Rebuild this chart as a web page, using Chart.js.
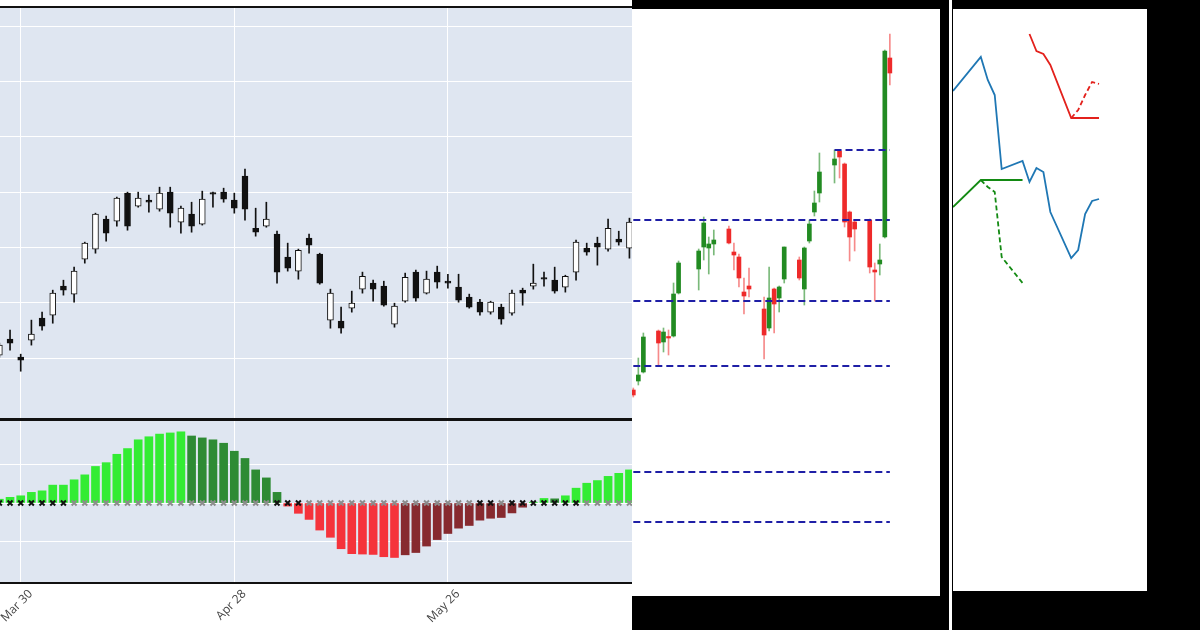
<!DOCTYPE html>
<html lang="en">
<head>
<meta charset="UTF-8">
<title>Squeeze momentum collage</title>
<script src="https://cdn.jsdelivr.net/npm/chart.js@4.4.1/dist/chart.umd.min.js"></script>
<style>
  body {
    margin: 0;
    width: 1200px;
    height: 630px;
    position: relative;
    overflow: hidden;
    background: #fff;
    font-family: 'Open Sans', sans-serif;
  }
  canvas { position: absolute; display: block; }
  .panel { position: absolute; top: 0; height: 630px; background: #000; }
  #mid { left: 632px; width: 317px; }
  #right { left: 952px; width: 248px; }
</style>
</head>
<body>

<canvas id="price" width="632" height="419" style="left:0;top:0"></canvas>
<canvas id="squeeze" width="632" height="211" style="left:0;top:419px"></canvas>
<div class="panel" id="mid">
  <canvas id="levels" width="308" height="587" style="left:0;top:9px;background:#fff"></canvas>
</div>
<div class="panel" id="right">
  <canvas id="paths" width="194" height="582" style="left:1px;top:9px;background:#fff"></canvas>
</div>

<script>
  // ---------- left: daily candles + squeeze momentum ----------
  const tickIdx  = [2, 22, 42];
  const tickText = ['Mar 30', 'Apr 28', 'May 26'];

  const cOpen  = [50.27,51.72,50.09,51.63,53.62,53.89,56.51,55.79,58.95,59.86,
                  62.57,62.39,64.92,63.74,64.29,63.47,65.01,62.30,63.02,62.12,
                  64.92,65.01,64.29,66.46,61.75,61.93,61.21,59.13,57.87,60.85,
                  59.40,53.44,53.35,54.52,56.24,56.78,56.51,53.07,55.15,57.78,
                  55.88,57.78,56.96,56.42,55.52,55.06,54.16,54.61,54.07,56.15,
                  56.51,57.23,57.05,56.42,57.78,59.95,60.40,59.86,60.76,59.95];
  const cHigh  = [51.36,52.53,50.36,53.44,54.16,56.15,57.05,58.23,60.49,63.11,
                  62.84,64.56,65.01,65.01,64.74,65.46,65.46,63.74,64.10,65.10,
                  65.01,65.37,64.92,67.09,63.56,64.10,61.48,60.40,59.86,61.21,
                  59.49,56.24,54.61,56.06,57.78,57.05,56.96,54.97,57.69,57.96,
                  57.87,58.32,57.59,57.59,55.79,55.33,55.15,54.88,56.15,56.33,
                  58.50,57.78,58.23,57.50,60.67,60.40,60.94,62.57,61.48,62.66];
  const cLow   = [50.09,50.72,48.82,51.18,52.53,53.16,55.70,55.06,58.59,59.49,
                  60.58,61.93,61.57,63.65,63.20,63.29,61.84,61.30,61.39,62.03,
                  63.65,64.10,63.11,62.48,61.03,61.84,56.78,57.87,57.14,59.49,
                  56.69,52.71,52.26,54.16,55.88,55.15,54.70,52.80,55.06,55.15,
                  55.80,56.33,56.33,55.06,54.52,53.89,53.98,53.07,53.89,54.79,
                  56.24,56.51,55.88,55.97,57.05,59.31,58.41,59.67,60.22,59.04];
  const cClose = [51.18,51.36,49.82,52.17,52.89,55.88,56.15,57.87,60.40,63.02,
                  61.30,64.47,61.93,64.47,64.10,64.92,63.11,63.56,61.93,64.38,
                  64.83,64.38,63.56,63.47,61.39,62.57,57.78,58.14,59.76,60.22,
                  56.78,55.88,52.71,54.97,57.41,56.24,54.79,54.70,57.32,55.42,
                  57.14,56.87,56.78,55.24,54.61,54.16,55.06,53.53,55.88,55.88,
                  56.78,57.14,56.06,57.41,60.49,59.58,60.04,61.75,60.49,62.30];

  const sqMom = [0.10,0.15,0.19,0.28,0.32,0.47,0.47,0.61,0.74,0.96,
                 1.06,1.28,1.43,1.66,1.74,1.81,1.84,1.87,1.76,1.71,
                 1.66,1.57,1.36,1.17,0.87,0.66,0.28,-0.08,-0.27,-0.43,
                 -0.71,-0.90,-1.20,-1.33,-1.34,-1.35,-1.41,-1.43,-1.36,-1.30,
                 -1.13,-0.96,-0.80,-0.66,-0.59,-0.45,-0.40,-0.38,-0.26,-0.11,
                 0.02,0.12,0.11,0.19,0.39,0.52,0.59,0.70,0.78,0.87];
  // 1 = squeeze on (black cross), 0 = off (grey cross)
  const sqOn = [1,1,1,1,1,1,1,0,0,0, 0,0,0,0,0,0,0,0,0,0,
                0,0,0,0,0,0,1,1,1,0, 0,0,0,0,0,0,0,0,0,0,
                0,0,0,0,0,1,1,0,1,1, 1,1,1,1,1,0,0,0,0,0];

  // ---------- middle: candles with dashed levels ----------
  const mDay   = [0,1,2,5,6,7,8,9,13,14,15,16,19,20,21,22,23,26,27,28,29,30,
                  33,34,35,36,37,40,41,42,43,44,47,48,49,50,51];
  const mOpen  = [110.6,111.5,112.4,116.5,115.4,115.9,116.0,120.3,122.7,124.9,124.8,125.2,
                  126.7,124.4,123.9,120.4,121.0,118.7,116.8,120.7,119.8,121.7,
                  123.6,120.7,125.5,128.4,130.3,133.1,134.5,133.2,128.4,127.4,
                  127.6,122.6,123.2,125.9,143.8];
  const mHigh  = [110.8,113.8,116.3,116.6,116.8,116.6,121.3,123.5,124.7,127.9,125.9,126.6,
                  127.0,125.3,124.2,121.8,122.8,119.9,122.9,120.8,121.0,124.9,
                  123.9,124.9,127.6,130.5,134.3,134.6,134.6,133.3,128.5,127.6,
                  127.7,123.3,125.2,144.6,146.2];
  const mLow   = [109.9,111.1,112.3,113.0,114.4,114.1,115.9,120.2,120.6,123.6,122.2,124.1,
                  125.2,122.6,120.9,118.2,119.9,113.7,116.5,116.3,118.4,121.3,
                  121.6,119.1,125.3,128.0,129.4,131.3,131.8,126.9,123.5,124.5,
                  122.3,119.5,122.1,125.8,141.1];
  const mClose = [110.1,112.1,115.9,115.3,116.4,115.8,120.2,123.3,124.5,127.3,125.2,125.6,
                  125.3,124.1,121.8,120.0,120.7,116.1,119.8,119.2,120.9,124.9,
                  121.8,124.8,127.2,129.3,132.4,133.7,133.9,127.4,125.9,126.7,
                  122.9,122.4,123.6,144.5,142.3];
  const levelPrice = [134.6, 127.6, 119.5, 113.0, 102.4, 97.4];
  const levelFrom  = [40, 0, 0, 0, 0, 0];
  const levelTo    = 51;

  // ---------- right: projected paths ----------
  const pathBlue   = [150.0,null,null,null,153.4,151.1,149.6,142.2,null,null,143.0,
                      140.9,142.3,141.9,137.9,null,null,133.3,134.1,137.7,139.0,139.2];
  const pathRed    = [null,null,null,null,null,null,null,null,null,null,null,
                      155.7,154.0,153.7,152.6,null,null,147.3,null,null,null,147.3];
  const pathRedDash   = [null,null,null,null,null,null,null,null,null,null,null,
                         null,null,null,null,null,null,147.3,148.1,149.6,150.9,150.7];
  const pathGreen     = [138.4,null,null,null,141.1,null,null,null,null,null,141.1];
  const pathGreenDash = [null,null,null,null,141.1,140.4,139.9,133.4,null,null,130.8];

  // plot background like plotly
  const plotBg = {
    id: 'plotBg',
    beforeDraw(chart, args, opts) {
      const { ctx, chartArea: a } = chart;
      ctx.save();
      ctx.fillStyle = opts.color;
      ctx.fillRect(a.left, a.top, a.right - a.left, a.bottom - a.top);
      ctx.restore();
    }
  };

  Chart.defaults.font.family = "'Open Sans', sans-serif";
  Chart.defaults.animation = false;
  Chart.defaults.plugins.legend.display = false;
  Chart.defaults.plugins.tooltip.enabled = false;

  const up = (o, c) => c >= o;

  function leftX(labels) {
    return {
      type: 'linear', min: 0.06, max: 59.24, position: 'bottom', offset: false,
      afterBuildTicks: s => { s.ticks = tickIdx.map(v => ({ value: v })); },
      grid: { color: '#fff', lineWidth: 1, drawTicks: false, offset: false },
      border: { color: '#111', width: 2 },
      ticks: {
        display: labels, minRotation: 45, maxRotation: 45, labelOffset: 10, padding: 4,
        color: '#444', font: { size: 12 },
        callback: v => tickText[tickIdx.indexOf(v)]
      },
      // keep the plot full width: no room reserved for the rotated labels
      afterFit: s => {
        s.height = labels ? 47 : 0;
        s.paddingLeft = 0;
        s.paddingRight = 0;
      }
    };
  }
  const topEdge = {
    type: 'linear', position: 'top', min: 0, max: 1,
    grid: { display: false }, ticks: { display: false },
    border: { color: '#111', width: 2 },
    afterFit: s => { s.height = 0; }
  };
  function leftY(min, max, step) {
    return {
      type: 'linear', min: min, max: max,
      afterBuildTicks: s => {
        s.ticks = s.ticks.filter(t => Math.abs(t.value / step - Math.round(t.value / step)) < 1e-6);
      },
      ticks: { display: false, stepSize: step },
      grid: { color: '#fff', lineWidth: 1, drawTicks: false },
      border: { display: false },
      afterFit: s => { s.width = 0; }
    };
  }

  new Chart('price', {
    type: 'bar',
    data: {
      datasets: [{
        data: cOpen.map((o, i) => ({ x: i, y: [o, cClose[i]] })),
        backgroundColor: cOpen.map((o, i) => up(o, cClose[i]) ? '#fff' : '#111'),
        borderColor: '#111', borderWidth: 1, borderSkipped: false,
        barThickness: 6, minBarLength: 1.5, grouped: false, order: 1
      }, {
        data: cLow.map((l, i) => ({ x: i, y: [l, cHigh[i]] })),
        backgroundColor: '#111', barThickness: 1, grouped: false, order: 2
      }]
    },
    options: {
      responsive: false,
      layout: { padding: { top: 7 }, autoPadding: false },
      scales: { x: leftX(false), x2: topEdge, y: leftY(44.5, 81.75, 5) },
      plugins: { plotBg: { color: '#dfe6f1' } }
    },
    plugins: [plotBg]
  });

  const momColor = sqMom.map((v, i) => {
    const prev = i > 0 ? sqMom[i - 1] : v;
    if (v >= 0) return v >= prev ? '#33ec33' : '#2e8b34';
    return v <= prev ? '#f5333b' : '#872a2f';
  });

  new Chart('squeeze', {
    type: 'bar',
    data: {
      datasets: [{
        type: 'scatter',
        data: sqOn.map((s, i) => ({ x: i, y: 0 })),
        pointStyle: 'crossRot', pointRadius: 3.5, pointBorderWidth: 2,
        pointBorderColor: sqOn.map(s => s ? '#111' : '#8c8c8c'),
        order: 0
      }, {
        data: sqMom.map((v, i) => ({ x: i, y: v })),
        backgroundColor: momColor, barThickness: 8, grouped: false, order: 1
      }]
    },
    options: {
      responsive: false,
      layout: { padding: { top: 1 }, autoPadding: false },
      scales: { x: leftX(true), x2: topEdge, y: leftY(-2.1, 2.18, 1) },
      plugins: { plotBg: { color: '#dfe6f1' } }
    },
    plugins: [plotBg]
  });

  // ---------- middle chart ----------
  const mUp = mOpen.map((o, i) => up(o, mClose[i]));
  const levelSets = levelPrice.map((p, k) => ({
    type: 'line',
    data: [{ x: levelFrom[k], y: p }, { x: levelTo, y: p }],
    borderColor: '#1f1fa6', borderWidth: 2, borderDash: [7, 4],
    pointRadius: 0, order: 0
  }));

  new Chart('levels', {
    type: 'bar',
    data: {
      datasets: [{
        data: mDay.map((d, i) => ({ x: d, y: [mOpen[i], mClose[i]] })),
        backgroundColor: mUp.map(u => u ? '#228b22' : '#ee2a2a'),
        barThickness: 4, minBarLength: 1.5, grouped: false, order: 1
      }, {
        data: mDay.map((d, i) => ({ x: d, y: [mLow[i], mHigh[i]] })),
        backgroundColor: mUp.map(u => u ? 'rgba(34,139,34,0.6)' : 'rgba(238,42,42,0.55)'),
        barThickness: 1, grouped: false, order: 2
      }].concat(levelSets)
    },
    options: {
      responsive: false,
      layout: { autoPadding: false },
      scales: {
        x: { type: 'linear', min: -0.26, max: 60.97, offset: false, display: false },
        y: { type: 'linear', min: 90, max: 148.7, display: false }
      }
    }
  });

  // ---------- right chart ----------
  const pts = arr => arr.map((v, i) => ({ x: i, y: v })).filter(p => p.y !== null);
  const path = (arr, color, dash) => ({
    data: pts(arr), borderColor: color, borderWidth: 1.8,
    borderDash: dash || [], pointRadius: 0, tension: 0
  });

  new Chart('paths', {
    type: 'line',
    data: {
      datasets: [
        path(pathBlue, '#1f77b4'),
        path(pathRed, '#e3211c'),
        path(pathRedDash, '#e3211c', [5, 3]),
        path(pathGreen, '#138a13'),
        path(pathGreenDash, '#138a13', [5, 3])
      ]
    },
    options: {
      responsive: false,
      layout: { autoPadding: false },
      scales: {
        x: { type: 'linear', min: 0, max: 27.9, display: false },
        y: { type: 'linear', min: 100, max: 158.2, display: false }
      }
    }
  });
</script>

</body>
</html>
